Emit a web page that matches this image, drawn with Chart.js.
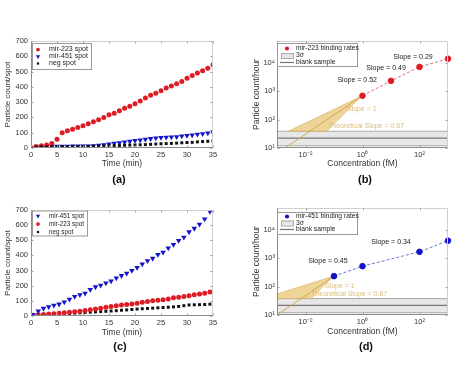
<!DOCTYPE html>
<html>
<head>
<meta charset="utf-8">
<script src="https://cdn.jsdelivr.net/npm/chart.js@4.4.1/dist/chart.umd.min.js"></script>
<style>
  html, body { margin: 0; padding: 0; background: #fff; }
  #fig { position: relative; width: 474px; height: 379px; overflow: hidden; }
  canvas { position: absolute; }
  .tag { position: absolute; width: 40px; text-align: center; font: bold 11px "Liberation Sans", Arial, sans-serif; line-height: 12px; color: #111; }
</style>
</head>
<body>
<div id="fig">
  <canvas id="chartA" width="237" height="190" style="left:0;top:0"></canvas>
  <canvas id="chartB" width="237" height="190" style="left:237px;top:0"></canvas>
  <canvas id="chartC" width="237" height="189" style="left:0;top:190px"></canvas>
  <canvas id="chartD" width="237" height="189" style="left:237px;top:190px"></canvas>
  <div class="tag" style="left:99px;top:173px">(a)</div>
  <div class="tag" style="left:345px;top:173px">(b)</div>
  <div class="tag" style="left:100px;top:340px">(c)</div>
  <div class="tag" style="left:346px;top:340px">(d)</div>
</div>
<script>
// ---- data ----

// (a) time course on the mir-223 probe
const timeA = [0, 1, 2, 3, 4, 5, 6, 7, 8, 9, 10, 11, 12, 13, 14, 15, 16, 17, 18, 19, 20,
  21, 22, 23, 24, 25, 26, 27, 28, 29, 30, 31, 32, 33, 34, 35];
const a223 = [0, 9, 14, 19, 30, 57, 100, 113, 122, 134, 146, 158, 171, 184, 200, 218, 228, 243, 260, 273,
  290, 308, 327, 345, 358, 374, 393, 406, 420, 435, 456, 474, 490, 506, 522, 545];
const a451 = [0, 7, 8, 9, 10, 10, 11, 11, 12, 12, 13, 13, 14, 18, 21, 25, 30, 34, 39, 44,
  48, 52, 57, 61, 65, 68, 70, 71, 73, 78, 81, 84, 89, 93, 98, 104];
const aNeg = [0, 5, 6, 7, 8, 8, 9, 9, 10, 10, 11, 11, 12, 13, 13, 15, 16, 16, 18, 19,
  20, 21, 22, 24, 26, 28, 29, 30, 32, 34, 36, 37, 40, 42, 44, 46];

// (c) time course on the mir-451 probe
const timeC = [0.4, 1.4, 2.4, 3.4, 4.4, 5.4, 6.4, 7.4, 8.4, 9.4, 10.4, 11.4, 12.4, 13.4, 14.4, 15.4, 16.4,
  17.4, 18.4, 19.4, 20.4, 21.4, 22.4, 23.4, 24.4, 25.4, 26.4, 27.4, 28.4, 29.4, 30.4, 31.4, 32.4, 33.4, 34.4];
const c451 = [8, 33, 50, 60, 70, 78, 92, 110, 128, 140, 150, 175, 192, 202, 218, 230, 250, 266, 282, 300,
  320, 343, 365, 380, 405, 420, 448, 472, 498, 520, 555, 578, 605, 640, 690];
const c223 = [5, 8, 10, 13, 15, 18, 22, 25, 28, 32, 37, 41, 47, 52, 58, 63, 68, 72, 76, 80,
  84, 90, 96, 100, 104, 108, 112, 120, 124, 128, 134, 140, 145, 150, 158];
const cNeg = [2, 4, 7, 9, 11, 13, 15, 17, 19, 21, 23, 25, 27, 29, 31, 33, 35, 38, 40, 43,
  46, 48, 50, 52, 54, 56, 58, 60, 63, 68, 73, 74, 75, 76, 78];

// (b) / (d) binding rate vs concentration
const concB = [1, 10, 100, 1000];
const rateB = [700, 2350, 7300, 14200];
const concD = [0.1, 1, 100, 1000];
const rateD = [235, 530, 1700, 4200];

// 3 sigma band and blank level (particles/hour)
const sigmaB = [12, 39];
const blankB = 22.5;
const sigmaD = [12, 38];
const blankD = 22;

// slope cones and theoretical slope lines
const coneBx = [1, 0.0025, 0.059];
const coneBy = [700, 39, 39];
const theoBx = [1, 0.0019];
const theoBy = [700, 10];
const coneDx = [0.1, 0.001, 0.001, 0.017];
const coneDy = [235, 55, 38, 38];
const theoDx = [0.1, 0.001];
const theoDy = [235, 10];

// ticks
const timeTicks = [0, 5, 10, 15, 20, 25, 30, 35];
const countTicks = [0, 100, 200, 300, 400, 500, 600, 700];
const concTicks = [1e-2, 1, 1e2];
const rateTicks = [1e1, 1e2, 1e3, 1e4];
const concRange = [1e-3, 1e3];
const rateRange = [10, 60000];

// ---- drawing ----
const FONT = '"Liberation Sans", Arial, sans-serif';
Chart.defaults.font.family = FONT;
Chart.defaults.color = '#333';
Chart.defaults.animation = false;

const RED = '#dd1c24';
const BLUE = '#1414c8';
const BLACK = '#111';
const SIGMA_FILL = '#e7e7e7';
const CONE_FILL = 'rgba(232, 192, 105, 0.68)';
const CONE_LINE = '#ddb868';
const TAN_TEXT = '#d8bc7c';

function pairs(xs, ys) {
  return xs.map((x, i) => ({ x: x, y: ys[i] }));
}

const SUP = { '-': '\u207b', '0': '\u2070', '1': '\u00b9', '2': '\u00b2', '3': '\u00b3', '4': '\u2074' };
function powLabel(v) {
  const e = String(Math.round(Math.log10(v)));
  return '10' + e.split('').map(c => SUP[c]).join('');
}

// frame, inward ticks, text notes and boxed legend
const extras = {
  id: 'extras',
  afterDatasetsDraw(chart, args, opts) {
    const { ctx, chartArea: ca, scales } = chart;
    const xs = scales.x, ys = scales.y;
    const L = Math.round(ca.left) + 0.5, R = Math.round(ca.right) - 0.5;
    const T = Math.round(ca.top) + 0.5, B = Math.round(ca.bottom) - 0.5;
    ctx.save();
    ctx.lineWidth = 1;
    ctx.strokeStyle = '#cfcfcf';
    ctx.beginPath();
    ctx.moveTo(L, T); ctx.lineTo(R, T); ctx.lineTo(R, B);
    ctx.stroke();
    ctx.strokeStyle = '#8c8c8c';
    ctx.beginPath();
    ctx.moveTo(L, T); ctx.lineTo(L, B); ctx.lineTo(R, B);
    ctx.stroke();

    ctx.strokeStyle = '#a0a0a0';
    ctx.beginPath();
    xs.ticks.forEach(t => {
      const p = Math.round(xs.getPixelForValue(t.value)) + 0.5;
      ctx.moveTo(p, B); ctx.lineTo(p, B - 2);
      ctx.moveTo(p, T); ctx.lineTo(p, T + 2);
    });
    ys.ticks.forEach(t => {
      const p = Math.round(ys.getPixelForValue(t.value)) + 0.5;
      ctx.moveTo(L, p); ctx.lineTo(L + 2, p);
      ctx.moveTo(R, p); ctx.lineTo(R - 2, p);
    });
    ctx.stroke();

    (opts.notes || []).forEach(n => {
      ctx.font = '7px ' + FONT;
      ctx.fillStyle = n.color;
      ctx.textAlign = 'center';
      ctx.textBaseline = 'middle';
      ctx.fillText(n.text, xs.getPixelForValue(n.x), ys.getPixelForValue(n.y));
    });

    const lg = opts.legend;
    if (lg) {
      ctx.fillStyle = '#fff';
      ctx.fillRect(lg.left, lg.top, lg.width, lg.height);
      ctx.strokeStyle = '#9a9a9a';
      ctx.strokeRect(lg.left + 0.5, lg.top + 0.5, lg.width, lg.height);
      lg.items.forEach((it, k) => {
        const ds = chart.data.datasets[it.ds];
        const y = lg.top + lg.rows[k];
        const mx = lg.left + lg.marker;
        if (it.kind === 'point') {
          ctx.fillStyle = ds.backgroundColor;
          ctx.strokeStyle = ds.borderColor;
          ctx.lineWidth = 1;
          Chart.helpers.drawPoint(ctx, {
            pointStyle: ds.pointStyle, radius: ds.pointRadius * 0.75,
            rotation: ds.rotation || 0, borderWidth: 0
          }, mx, y);
        } else if (it.kind === 'patch') {
          ctx.fillStyle = ds.backgroundColor;
          ctx.fillRect(mx - 6, y - 2.5, 12, 5);
          ctx.strokeStyle = ds.borderColor;
          ctx.strokeRect(mx - 6 + 0.5, y - 2.5 + 0.5, 12, 5);
        } else {
          ctx.strokeStyle = ds.borderColor;
          ctx.lineWidth = 1.2;
          ctx.beginPath(); ctx.moveTo(mx - 7, y); ctx.lineTo(mx + 7, y); ctx.stroke();
        }
        ctx.font = lg.font + 'px ' + FONT;
        ctx.fillStyle = '#222';
        ctx.textAlign = 'left';
        ctx.textBaseline = 'middle';
        ctx.fillText(ds.label, lg.left + lg.text, y);
      });
    }
    ctx.restore();
  }
};

function axes(p) {
  return {
    x: {
      type: p.log ? 'logarithmic' : 'linear',
      min: p.xRange[0], max: p.xRange[1],
      afterBuildTicks: s => { s.ticks = p.xTicks.map(v => ({ value: v })); },
      afterFit: s => { s.height = p.xH; },
      grid: { display: false, drawTicks: false },
      border: { display: false },
      ticks: {
        padding: 2.5, maxRotation: 0, autoSkip: false,
        font: { size: 7.5 }, color: '#333',
        callback: v => (p.log ? powLabel(v) : String(v))
      },
      title: { display: true, text: p.xTitle, font: { size: 8.5 }, color: '#333', padding: 0 }
    },
    y: {
      type: p.log ? 'logarithmic' : 'linear',
      min: p.yRange[0], max: p.yRange[1],
      afterBuildTicks: s => { s.ticks = p.yTicks.map(v => ({ value: v })); },
      afterFit: s => { s.width = p.yW; },
      grid: { display: false, drawTicks: false },
      border: { display: false },
      ticks: {
        padding: p.yPad, autoSkip: false,
        font: { size: 7.5 }, color: '#333',
        callback: v => (p.log ? powLabel(v) : String(v))
      },
      title: { display: true, text: p.yTitle, font: { size: p.yFont }, color: '#333', padding: { top: p.yTitlePad, bottom: 0 } }
    }
  };
}

function timeChart(id, h, pad, sets, legend) {
  new Chart(document.getElementById(id), {
    type: 'scatter',
    data: { datasets: sets },
    options: {
      responsive: false,
      layout: { padding: pad },
      plugins: { legend: { display: false }, tooltip: { enabled: false }, extras: { legend: legend } },
      scales: axes({
        log: false, xRange: [0, 35], yRange: [0, 700], xTicks: timeTicks, yTicks: countTicks,
        xTitle: 'Time (min)', yTitle: 'Particle count/spot', xH: h, yW: 31, yPad: 3, yFont: 8, yTitlePad: 3
      })
    },
    plugins: [extras]
  });
}

function rateChart(id, h, pad, sets, legend, notes) {
  new Chart(document.getElementById(id), {
    type: 'scatter',
    data: { datasets: sets },
    options: {
      responsive: false,
      layout: { padding: pad },
      plugins: { legend: { display: false }, tooltip: { enabled: false }, extras: { legend: legend, notes: notes } },
      scales: axes({
        log: true, xRange: concRange, yRange: rateRange, xTicks: concTicks, yTicks: rateTicks,
        xTitle: 'Concentration (fM)', yTitle: 'Particle count/hour', xH: h, yW: 40, yPad: 2, yFont: 8.5, yTitlePad: 15
      })
    },
    plugins: [extras]
  });
}

const spot223 = ys => ({ label: 'mir-223 spot', data: ys, pointStyle: 'circle', pointRadius: 2.5, backgroundColor: RED, borderColor: RED, borderWidth: 0 });
const spot451 = ys => ({ label: 'mir-451 spot', data: ys, pointStyle: 'triangle', rotation: 180, pointRadius: 3.2, backgroundColor: BLUE, borderColor: BLUE, borderWidth: 0 });
const spotNeg = ys => ({ label: 'neg spot', data: ys, pointStyle: 'rect', pointRadius: 2.1, backgroundColor: BLACK, borderColor: BLACK, borderWidth: 0 });

// (a)
const setsA = [spot223(pairs(timeA, a223)), spot451(pairs(timeA, a451)), spotNeg(pairs(timeA, aNeg))];
setsA[2].order = -1;
timeChart('chartA', 21.1, { left: 0, top: 41, right: 24, bottom: 20.9 }, setsA,
  { left: 32, top: 43, width: 59, height: 26, rows: [6.5, 13.5, 20.5], marker: 6, text: 17, font: 7,
    items: [{ ds: 0, kind: 'point' }, { ds: 1, kind: 'point' }, { ds: 2, kind: 'point' }] });

// (c)
const setsC = [spot451(pairs(timeC, c451)), spot223(pairs(timeC, c223)), spotNeg(pairs(timeC, cNeg))];
timeChart('chartC', 22.1, { left: 0, top: 20, right: 24, bottom: 40.9 }, setsC,
  { left: 32, top: 20.5, width: 55, height: 25, rows: [5.5, 13.5, 21.5], marker: 6, text: 17, font: 6.3,
    items: [{ ds: 0, kind: 'point' }, { ds: 1, kind: 'point' }, { ds: 2, kind: 'point' }] });

function rateSets(label, color, lineColor, conc, rate, sigma, blank, cx, cy, tx, ty) {
  return [
    { label: label, data: pairs(conc, rate), showLine: true, borderColor: lineColor, borderWidth: 1,
      borderDash: [3, 2], pointStyle: 'circle', pointRadius: 2.8, pointBackgroundColor: color,
      pointBorderColor: color, backgroundColor: color, clip: 6, order: 0 },
    { label: 'Slope = 1', data: pairs(cx, cy), showLine: true, fill: 'shape', backgroundColor: CONE_FILL,
      borderColor: CONE_LINE, borderWidth: 0.8, pointRadius: 0, order: 2 },
    { label: 'Theoretical Slope = 0.67', data: pairs(tx, ty), showLine: true, borderColor: '#cfa955',
      borderWidth: 1, pointRadius: 0, order: 1 },
    { label: '3\u03c3', data: pairs([concRange[0], concRange[1], concRange[1], concRange[0]], [sigma[0], sigma[0], sigma[1], sigma[1]]),
      showLine: true, fill: 'shape', backgroundColor: SIGMA_FILL, borderColor: '#a9a9a9', borderWidth: 1,
      pointRadius: 0, order: 5 },
    { label: 'blank sample', data: pairs(concRange, [blank, blank]), showLine: true, borderColor: '#777',
      borderWidth: 1.2, pointRadius: 0, order: 4 }
  ];
}

// (b)
rateChart('chartB', 21.1, { left: 0, top: 41, right: 26, bottom: 20.9 },
  rateSets('mir-223 binding rates', RED, '#e0707a', concB, rateB, sigmaB, blankB, coneBx, coneBy, theoBx, theoBy),
  { left: 40, top: 43, width: 80, height: 23, rows: [5.5, 12.5, 19.5], marker: 10, text: 19, font: 6.7,
    items: [{ ds: 0, kind: 'point' }, { ds: 3, kind: 'patch' }, { ds: 4, kind: 'line' }] },
  [
    { text: 'Slope = 0.52', x: 0.65, y: 2500, color: '#222' },
    { text: 'Slope = 0.49', x: 6.7, y: 6700, color: '#222' },
    { text: 'Slope = 0.29', x: 59, y: 16700, color: '#222' },
    { text: 'Slope = 1', x: 0.95, y: 240, color: TAN_TEXT },
    { text: 'Theoretical Slope = 0.67', x: 1.33, y: 60, color: TAN_TEXT }
  ]);

// (d)
rateChart('chartD', 22.1, { left: 0, top: 18, right: 26, bottom: 41.9 },
  rateSets('mir-451 binding rates', BLUE, '#7070d8', concD, rateD, sigmaD, blankD, coneDx, coneDy, theoDx, theoDy),
  { left: 40, top: 22, width: 80, height: 22, rows: [4.5, 11, 17.5], marker: 10, text: 19, font: 6.7,
    items: [{ ds: 0, kind: 'point' }, { ds: 3, kind: 'patch' }, { ds: 4, kind: 'line' }] },
  [
    { text: 'Slope = 0.45', x: 0.061, y: 815, color: '#222' },
    { text: 'Slope = 0.34', x: 10, y: 3740, color: '#222' },
    { text: 'Slope = 1', x: 0.16, y: 108, color: TAN_TEXT },
    { text: 'Theoretical Slope = 0.67', x: 0.34, y: 57, color: TAN_TEXT }
  ]);
</script>
</body>
</html>
